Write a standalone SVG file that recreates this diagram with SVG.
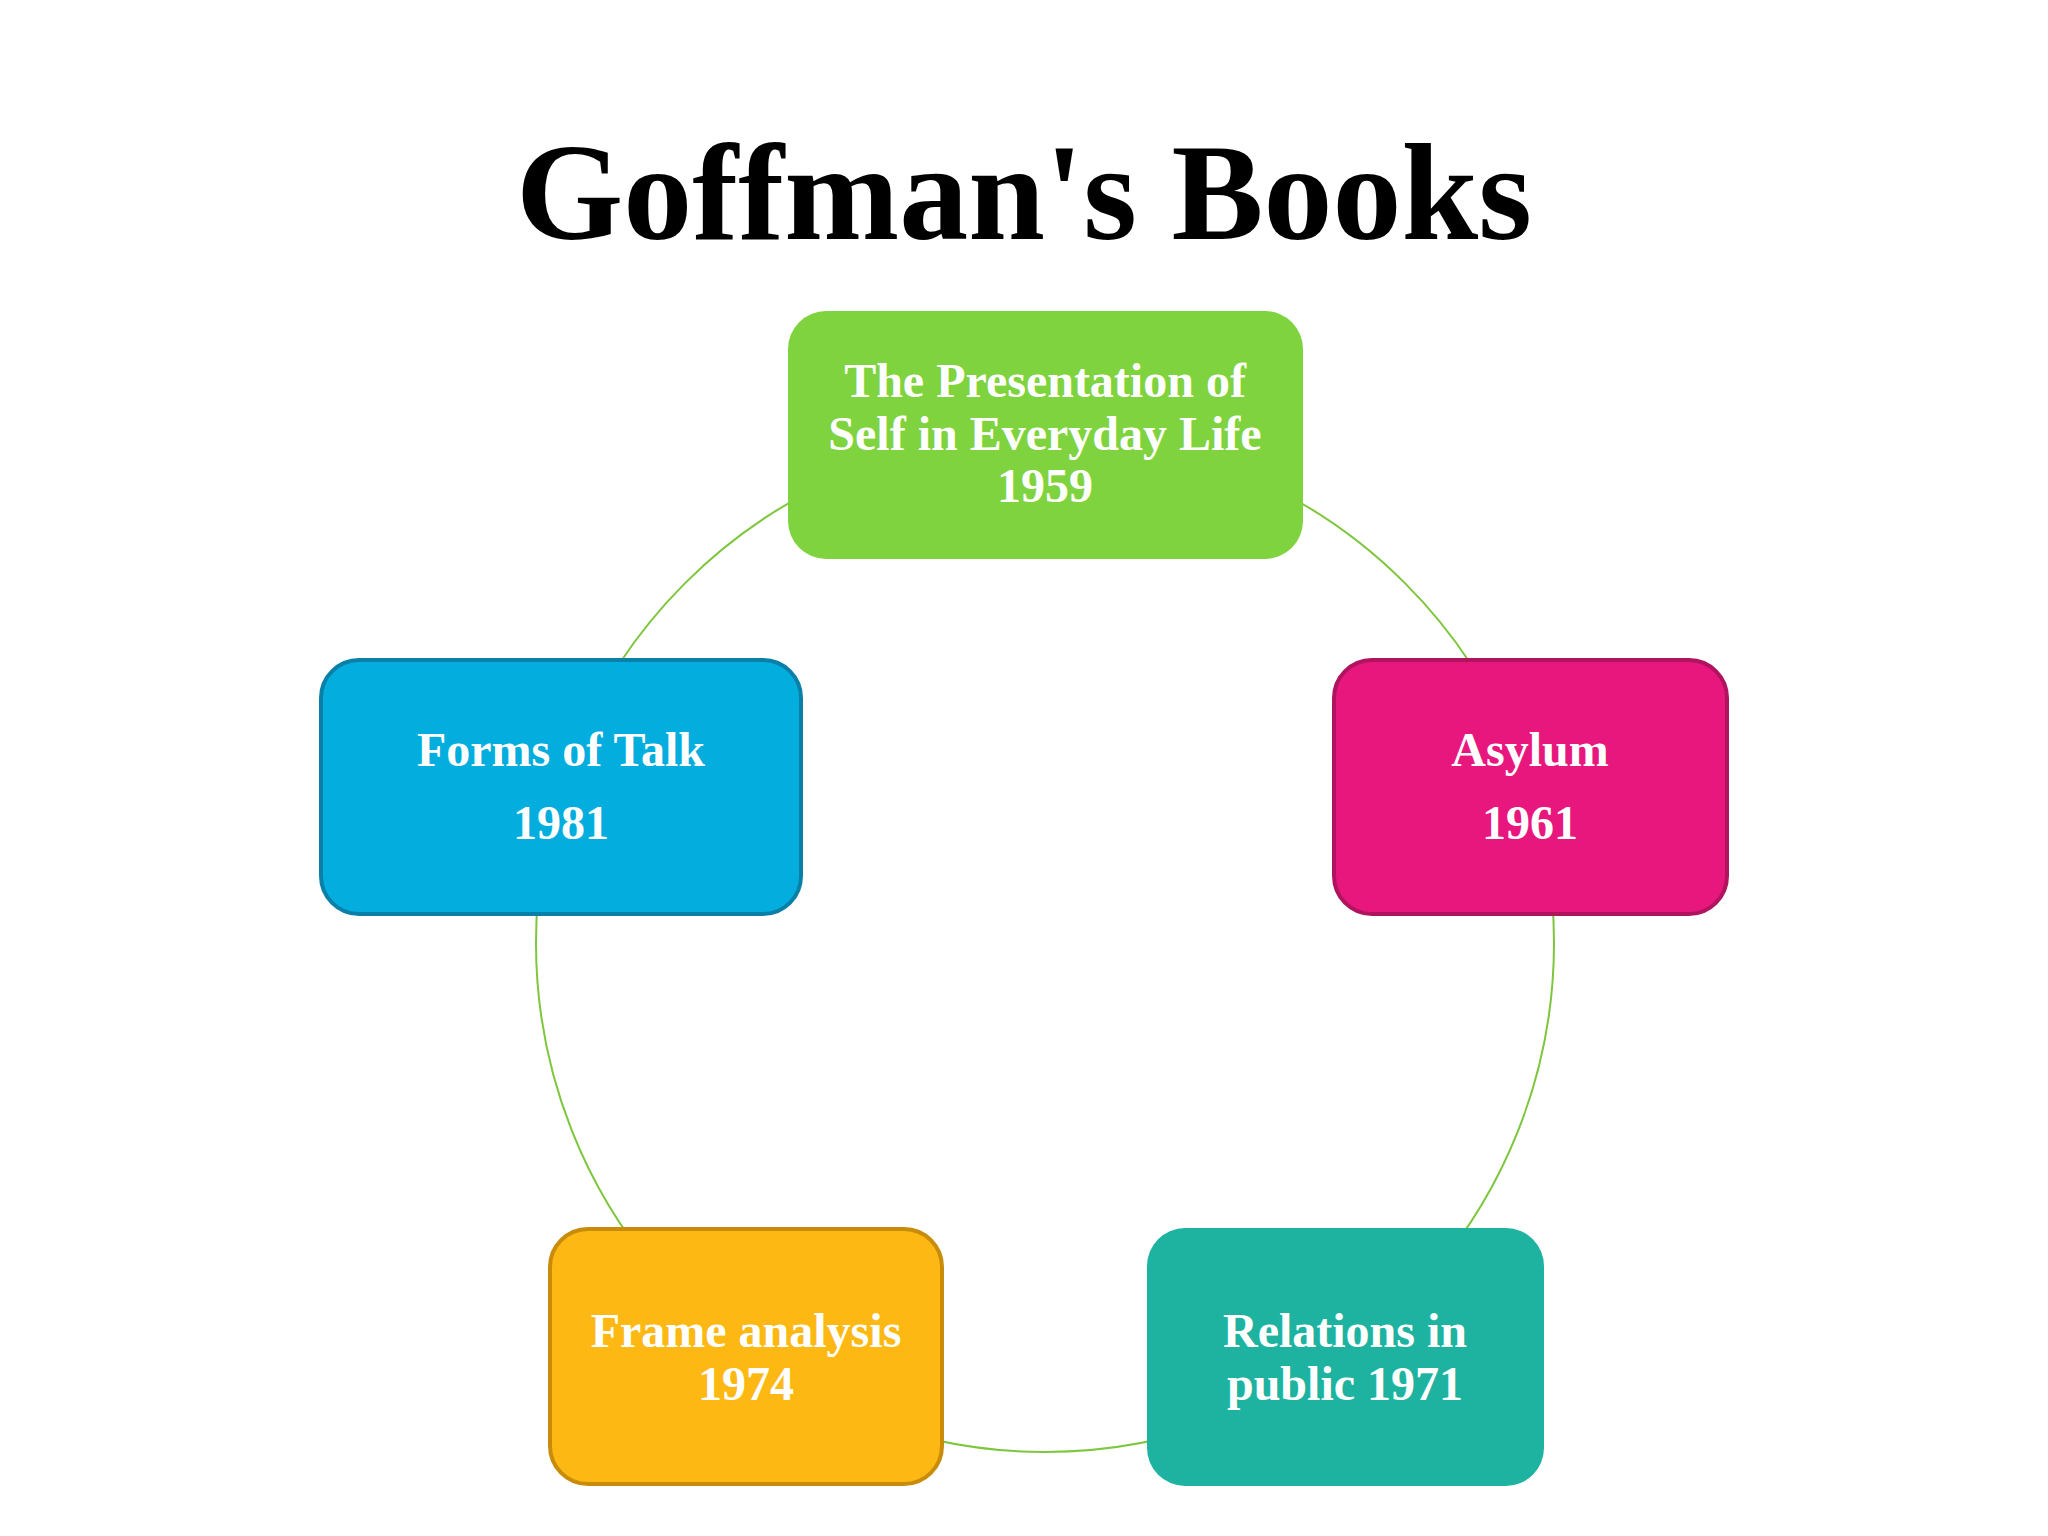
<svg xmlns="http://www.w3.org/2000/svg" width="2048" height="1536" viewBox="0 0 2048 1536">
<style>
.t{font-family:"Liberation Serif",serif;font-weight:bold;fill:#fff;font-size:48px;text-anchor:middle}
</style>
<rect width="2048" height="1536" fill="#fff"/>
<text x="1024" y="239" font-family="Liberation Serif,serif" font-weight="bold" font-size="138" text-anchor="middle" fill="#000">Goffman's Books</text>
<g id="connectors"><circle cx="1045" cy="943" r="509" fill="none" stroke="#7dc63d" stroke-width="2"/></g>
<g id="n1"><rect x="788" y="311" width="515" height="248" rx="38" fill="#7fd33e"/>
<text class="t" x="1045" y="397">The Presentation of</text><text class="t" x="1045" y="450">Self in Everyday Life</text><text class="t" x="1045" y="502">1959</text></g>
<g id="n2"><rect x="1334" y="660" width="393" height="254" rx="38" fill="#e8177d" stroke="#b0145f" stroke-width="4"/>
<text class="t" x="1530" y="766">Asylum</text><text class="t" x="1530" y="839">1961</text></g>
<g id="n3"><rect x="1147" y="1228" width="397" height="258" rx="38" fill="#1db3a0"/>
<text class="t" x="1345" y="1347">Relations in</text><text class="t" x="1345" y="1400">public 1971</text></g>
<g id="n4"><rect x="550" y="1229" width="392" height="255" rx="38" fill="#fdb813" stroke="#c88c0a" stroke-width="4"/>
<text class="t" x="746" y="1347">Frame analysis</text><text class="t" x="746" y="1400">1974</text></g>
<g id="n5"><rect x="321" y="660" width="480" height="254" rx="38" fill="#03addd" stroke="#0a80a8" stroke-width="4"/>
<text class="t" x="561" y="766">Forms of Talk</text><text class="t" x="561" y="839">1981</text></g>
</svg>
